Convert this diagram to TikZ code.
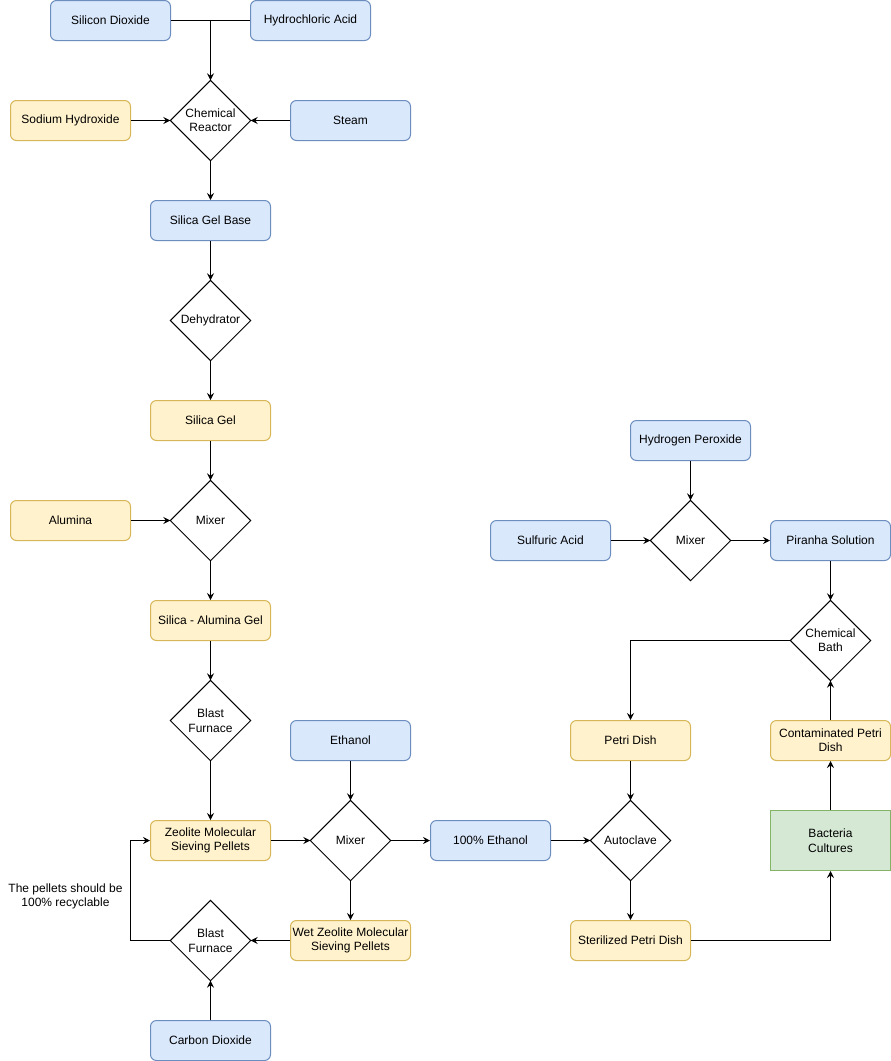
\documentclass[tikz,border=0pt]{standalone}
\usepackage{fontspec}
\setmainfont{Liberation Sans}
\usetikzlibrary{arrows.meta}
\definecolor{bfill}{HTML}{DAE8FC}\definecolor{bdraw}{HTML}{6C8EBF}
\definecolor{yfill}{HTML}{FFF2CC}\definecolor{ydraw}{HTML}{D6B656}
\definecolor{gfill}{HTML}{D5E8D4}\definecolor{gdraw}{HTML}{82B366}
\tikzset{
  base/.style={rectangle, minimum width=120pt, minimum height=40pt, inner sep=1pt, align=center, font=\fontsize{12}{14.4}\selectfont, line width=1pt},
  bluebox/.style={base, rounded corners=6pt, draw=bdraw, fill=bfill},
  yellowbox/.style={base, rounded corners=6pt, draw=ydraw, fill=yfill},
  greenbox/.style={base, minimum height=60pt, draw=gdraw, fill=gfill},
  dia/.style={rectangle, minimum width=80pt, minimum height=80pt, inner sep=0pt, align=center, font=\fontsize{12}{14.4}\selectfont},
  conn/.style={line width=1pt, draw=black},
  arr/.style={conn, -{Stealth[length=7pt,width=7pt,inset=2.5pt]}},
  lbl/.style={align=center, font=\fontsize{12}{14.4}\selectfont, inner sep=0pt}
}
\begin{document}
\begin{tikzpicture}[x=1pt,y=-1pt]
\useasboundingbox (0,0) rectangle (891,1061);
\begin{scope}[shift={(0.5,0.5)}]
\node[bluebox] (sio2) at (110,20) {Silicon Dioxide};
\node[bluebox] (hcl) at (310,20) {Hydrochloric Acid};
\node[yellowbox] (naoh) at (70,120) {Sodium Hydroxide};
\node[bluebox] (steam) at (350,120) {Steam};
\node[dia] (reactor) at (210,120) {Chemical\\Reactor};
\node[bluebox] (sgbase) at (210,220) {Silica Gel Base};
\node[dia] (dehyd) at (210,320) {Dehydrator};
\node[yellowbox] (sgel) at (210,420) {Silica Gel};
\node[yellowbox] (alumina) at (70,520) {Alumina};
\node[dia] (mix1) at (210,520) {Mixer};
\node[yellowbox] (sagel) at (210,620) {Silica - Alumina Gel};
\node[dia] (bf1) at (210,720) {Blast\\Furnace};
\node[yellowbox] (zeo) at (210,840) {Zeolite Molecular\\Sieving Pellets};
\node[bluebox] (eth) at (350,740) {Ethanol};
\node[dia] (mix2) at (350,840) {Mixer};
\node[yellowbox] (wet) at (350,940) {Wet Zeolite Molecular\\Sieving Pellets};
\node[dia] (bf2) at (210,940) {Blast\\Furnace};
\node[bluebox] (co2) at (210,1040) {Carbon Dioxide};
\node[bluebox] (eth100) at (490,840) {100\% Ethanol};
\node[dia] (auto) at (630,840) {Autoclave};
\node[yellowbox] (petri) at (630,740) {Petri Dish};
\node[yellowbox] (steril) at (630,940) {Sterilized Petri Dish};
\node[greenbox] (bact) at (830,840) {Bacteria\\Cultures};
\node[yellowbox] (contam) at (830,740) {Contaminated Petri\\Dish};
\node[dia] (bath) at (830,640) {Chemical\\Bath};
\node[bluebox] (piranha) at (830,540) {Piranha Solution};
\node[dia] (mix3) at (690,540) {Mixer};
\node[bluebox] (sulf) at (550,540) {Sulfuric Acid};
\node[bluebox] (h2o2) at (690,440) {Hydrogen Peroxide};
\node[lbl] (note) at (65,896) {The pellets should be\\100\% recyclable};
\foreach \d in {reactor,dehyd,mix1,bf1,mix2,bf2,auto,bath,mix3}
  \draw[line width=1pt] (\d.north) -- (\d.east) -- (\d.south) -- (\d.west) -- cycle;
\coordinate (j1) at (210,20);
\draw[conn] (sio2.east) -- (j1);
\draw[conn] (hcl.west) -- (j1);
\draw[arr] (j1) -- (reactor.north);
\draw[arr] (naoh.east) -- (reactor.west);
\draw[arr] (steam.west) -- (reactor.east);
\draw[arr] (reactor.south) -- (sgbase.north);
\draw[arr] (sgbase.south) -- (dehyd.north);
\draw[arr] (dehyd.south) -- (sgel.north);
\draw[arr] (sgel.south) -- (mix1.north);
\draw[arr] (alumina.east) -- (mix1.west);
\draw[arr] (mix1.south) -- (sagel.north);
\draw[arr] (sagel.south) -- (bf1.north);
\draw[arr] (bf1.south) -- (zeo.north);
\draw[arr] (zeo.east) -- (mix2.west);
\draw[arr] (eth.south) -- (mix2.north);
\draw[arr] (mix2.south) -- (wet.north);
\draw[arr] (wet.west) -- (bf2.east);
\draw[arr] (co2.north) -- (bf2.south);
\draw[arr] (bf2.west) -- ++(-40,0) |- (zeo.west);
\draw[arr] (mix2.east) -- (eth100.west);
\draw[arr] (eth100.east) -- (auto.west);
\draw[arr] (petri.south) -- (auto.north);
\draw[arr] (auto.south) -- (steril.north);
\draw[arr] (steril.east) -| (bact.south);
\draw[arr] (bact.north) -- (contam.south);
\draw[arr] (contam.north) -- (bath.south);
\draw[arr] (piranha.south) -- (bath.north);
\draw[arr] (bath.west) -| (petri.north);
\draw[arr] (sulf.east) -- (mix3.west);
\draw[arr] (h2o2.south) -- (mix3.north);
\draw[arr] (mix3.east) -- (piranha.west);
\end{scope}
\end{tikzpicture}
\end{document}
